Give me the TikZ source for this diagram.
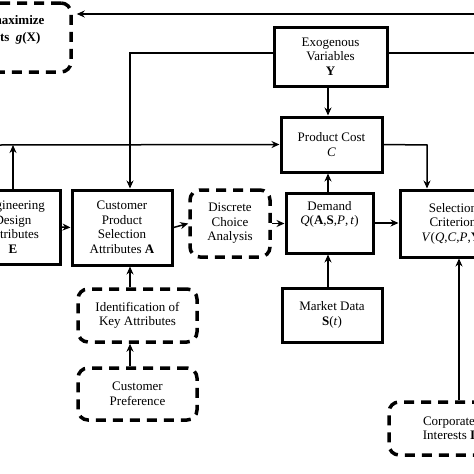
\documentclass[tikz,border=0pt]{standalone}
\usepackage{fontspec}
\setmainfont{Liberation Serif}
\usetikzlibrary{arrows.meta,calc}
\tikzset{
  solidbox/.style={draw, line width=3pt, rectangle, align=center, inner sep=1pt,
    font=\fontsize{13}{14.5}\selectfont},
  dashbox/.style={draw, line width=3.5pt, rectangle, rounded corners=10pt, align=center,
    dash pattern=on 10pt off 7pt, inner sep=1pt, font=\fontsize{13}{14.5}\selectfont},
  conn/.style={line width=1.5pt, -{Stealth[length=8pt,width=7pt]}},
  plain/.style={line width=1.5pt}
}
\begin{document}
\begin{tikzpicture}[x=1pt,y=-1pt]
\path[use as bounding box] (0,0) rectangle (474,474);
\clip (0,0) rectangle (474,474);
\fill[white] (0,0) rectangle (474,474);

% boxes
\node[dashbox, minimum width=132pt, minimum height=69pt] (maxbox) at (5,37.5) {};
\node[font=\bfseries\fontsize{13}{14.5}\selectfont, anchor=east] (maxt1) at (48,20) {maximize};
\node[font=\bfseries\fontsize{13}{14.5}\selectfont, anchor=east] (maxt2) at (44,38.5) {ts\ \ \textit{g}(\textbf{X})};

\node[solidbox, minimum width=113pt, minimum height=59pt] (exo) at (330.5,56.5) {Exogenous\\Variables\\\textbf{Y}};
\node[solidbox, minimum width=101pt, minimum height=55pt] (cost) at (331.5,144.5) {Product Cost\\\textit{C}};
\node[solidbox, minimum width=94pt, minimum height=74pt] (eng) at (13,227) {Engineering\\Design\\Attributes\\\textbf{E}};
\node[solidbox, minimum width=100pt, minimum height=75pt] (cps) at (122,227.5) {Customer\\Product\\Selection\\Attributes \textbf{A}};
\node[dashbox, minimum width=80pt, minimum height=67pt] (dca) at (230,223.5) {Discrete\\Choice\\Analysis};
\node[solidbox, minimum width=87pt, minimum height=60pt] (dem) at (329.5,223) {Demand\\\textit{Q}(\textbf{A},\textbf{S},\textit{P},\,\textit{t})\\[6pt]};
\node[solidbox, minimum width=106pt, minimum height=67pt] (sel) at (453,223.5) {Selection\\Criterion\\\textit{V}(\textit{Q},\textit{C},\textit{P},\textbf{Y})};
\node[solidbox, minimum width=100pt, minimum height=54pt] (mkt) at (332,315) {Market Data\\\textbf{S}(\textit{t})};
\node[dashbox, minimum width=119pt, minimum height=53pt] (ika) at (137.5,315.5) {Identification of\\Key Attributes};
\node[dashbox, minimum width=119pt, minimum height=52pt] (cp) at (137.5,394) {Customer\\Preference};
\node[dashbox, minimum width=120pt, minimum height=53pt] (corp) at (449,428.5) {Corporate\\Interests \textbf{I}};

% helper coordinates
\coordinate (rt1) at (474,14);
\coordinate (jA) at (130,53);
\coordinate (rt2) at (474,53);
\coordinate (lt) at (0,145);
\coordinate (jB) at (427,145);
\coordinate (xC) at (459,0);

% connectors
\draw[conn] (rt1) -- ($(maxbox.east |- rt1)+(4,0)$);
\draw[conn] (exo.west |- jA) -- (jA) -- (cps.north -| jA);
\draw[plain] (exo.east |- jA) -- (rt2);
\draw[conn] (exo.south -| 328,0) -- (cost.north -| 328,0);
\draw[conn] (lt) -- (cost.west);
\draw[conn] (eng.north) -- (eng.north |- lt);
\draw[conn] (eng.east) -- (cps.west);
\draw[conn] (cps.east) -- (dca.west);
\draw[conn] (dca.east) -- (dem.west |- dca.east);
\draw[conn] (dem.north -| 328,0) -- (cost.south -| 328,0);
\draw[conn] (dem.east) -- (sel.west |- dem.east);
\draw[conn] (cost.east) -- (jB) -- (sel.north -| jB);
\draw[conn] (mkt.north -| 328,0) -- (dem.south -| 328,0);
\draw[conn] (corp.north -| xC) -- (sel.south -| xC);
\draw[conn] (ika.north -| jA) -- (cps.south -| jA);
\draw[conn] (cp.north -| jA) -- (ika.south -| jA);
\end{tikzpicture}
\end{document}
